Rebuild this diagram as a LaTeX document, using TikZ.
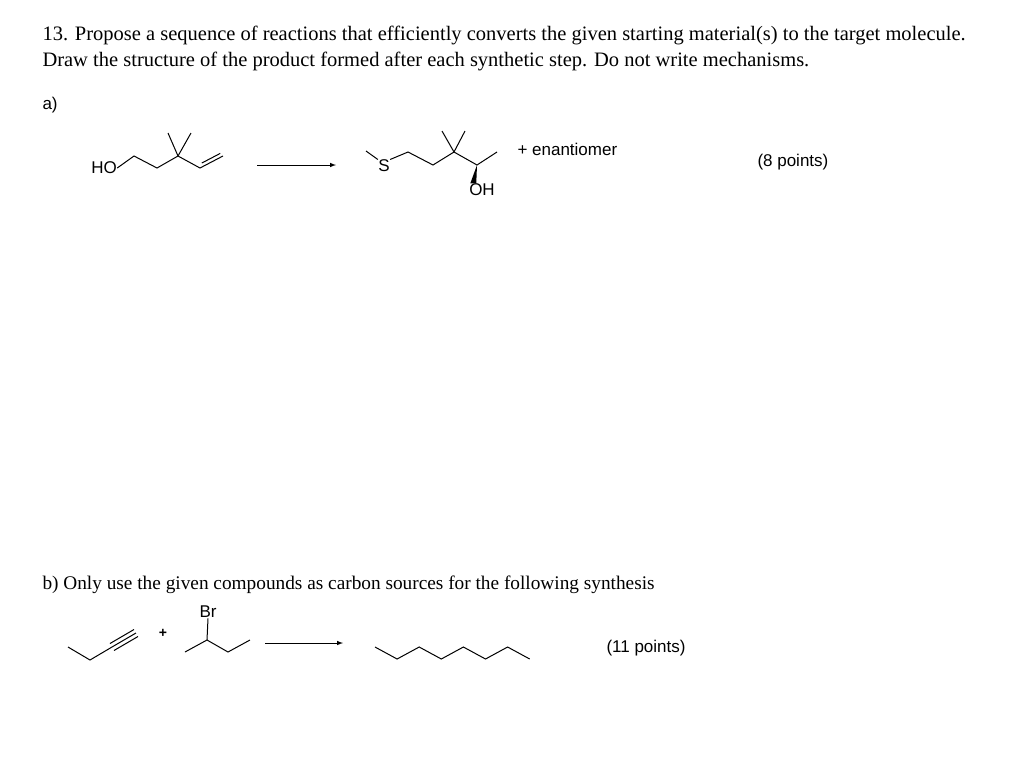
\documentclass[tikz,border=0pt]{standalone}
\usepackage{fontspec}
\usetikzlibrary{calc}
\setmainfont{Liberation Serif}
\newfontfamily\arial{Liberation Sans}
\begin{document}
\begin{tikzpicture}[x=1pt,y=-1pt,line width=1pt,
  ttl/.style={anchor=west,inner sep=0,font=\fontsize{20.5}{22}\selectfont},
  lbl/.style={inner sep=0,font=\arial\fontsize{17}{19}\selectfont},
  bond/.style={line width=1pt}]
\useasboundingbox (0,0) rectangle (1024,780);
\node[ttl] (t1) at (42,35) {13. Propose a sequence of reactions that efficiently converts the given starting material(s) to the target molecule.};
\node[ttl] (t2) at (42,61) {Draw the structure of the product formed after each synthetic step. Do not write mechanisms.};
\node[lbl,anchor=west] (a) at (42,105) {a)};
% starting material a
\node[lbl] (ho) at (104,168) {HO};
\coordinate (a1) at (134,156); \coordinate (a2) at (157,168); \coordinate (a3) at (178,156);
\coordinate (m1) at (168,133); \coordinate (m2) at (191,133);
\coordinate (a4) at (200,168); \coordinate (a5) at (223,156);
\draw[bond] (ho.east) -- (a1) -- (a2) -- (a3) -- (a4) -- (a5);
\draw[bond] (m1) -- (a3) -- (m2);
\draw[bond] ($(a4)!0.15!(a5)+(-1.6,-3.2)$) -- ($(a4)!0.95!(a5)+(-1.6,-3.2)$);
% arrow a
\coordinate (ar1) at (257,165); \coordinate (ar2) at (336,165);
\draw[bond,-latex] (ar1) -- (ar2);
% product a
\node[lbl] (s) at (384,166) {S};
\coordinate (sm) at (366,151);
\coordinate (b1) at (408,152); \coordinate (b2) at (433,165); \coordinate (b3) at (454,152);
\coordinate (n1) at (442,131); \coordinate (n2) at (465,131);
\coordinate (b4) at (477,165); \coordinate (b5) at (497,152);
\node[lbl] (oh) at (482,190) {OH};
\draw[bond] (sm) -- (s.north west);
\draw[bond] (s.north east) -- (b1) -- (b2) -- (b3) -- (b4) -- (b5);
\draw[bond] (n1) -- (b3) -- (n2);
\fill (b4) -- ($(oh.north west)+(1.5,0)$) -- ($(oh.north west)+(7.5,0)$) -- cycle;
\node[lbl,anchor=west] (en) at (517,149) {+ enantiomer};
\node[lbl,anchor=west] (p8) at (757,162) {(8 points)};
% part b
\node[ttl,anchor=west,font=\fontsize{19.3}{21}\selectfont] (bt) at (42,585) {b) Only use the given compounds as carbon sources for the following synthesis};
\coordinate (c1) at (68,647); \coordinate (c2) at (90,660); \coordinate (c3) at (112,647); \coordinate (c4) at (136,633);
\draw[bond] (c1) -- (c2) -- (c3) -- (c4);
\draw[bond] ($(c3)+(-2,-3.5)$) -- ($(c4)+(-2,-3.5)$);
\draw[bond] ($(c3)+(2,3.5)$) -- ($(c4)+(2,3.5)$);
\node[lbl,font=\arial\bfseries\fontsize{14}{15}\selectfont] (plus) at (163,633) {+};
\node[lbl] (br) at (208,612) {Br};
\coordinate (d1) at (185,652); \coordinate (d2) at (207,640); \coordinate (d3) at (228,652); \coordinate (d4) at (250,640);
\draw[bond] (d1) -- (d2) -- (d3) -- (d4);
\draw[bond] (d2) -- (br.south);
\coordinate (br1) at (265,643); \coordinate (br2) at (343,643);
\draw[bond,-latex] (br1) -- (br2);
\foreach \i in {0,...,7}{
  \pgfmathsetmacro\yy{mod(\i,2)==0 ? 647 : 659}
  \coordinate (o\i) at ({375+22.1*\i},\yy);}
\draw[bond] (o0)--(o1)--(o2)--(o3)--(o4)--(o5)--(o6)--(o7);
\node[lbl,anchor=west] (p11) at (606,648) {(11 points)};
\end{tikzpicture}
\end{document}
